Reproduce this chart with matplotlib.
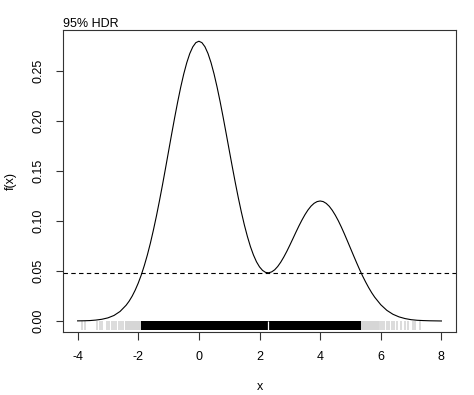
import matplotlib
matplotlib.use('agg')
from matplotlib import pyplot as plt

plt.rcParams['font.family'] = ['Liberation Sans', 'DejaVu Sans']

# density: every 0.2 in the tails, every 0.1 in the middle
x_vals = ([round(-4 + 0.2 * i, 1) for i in range(8)]
          + [round(-2.4 + 0.1 * i, 1) for i in range(83)]
          + [round(6.0 + 0.2 * i, 1) for i in range(11)])
fx_vals = [0.0001, 0.0002, 0.0004, 0.0009, 0.0017, 0.0031, 0.0055, 0.0095,
           0.0157, 0.0198, 0.0248, 0.0308, 0.0378, 0.0459, 0.0553, 0.0658,
           0.0776, 0.0907, 0.1048, 0.1200, 0.1359, 0.1525, 0.1694, 0.1863,
           0.2028, 0.2186, 0.2333, 0.2465, 0.2578, 0.2670, 0.2737, 0.2779,
           0.2793, 0.2779, 0.2738, 0.2671, 0.2580, 0.2467, 0.2336, 0.2191,
           0.2035, 0.1872, 0.1707, 0.1543, 0.1383, 0.1231, 0.1089, 0.0959,
           0.0844, 0.0743, 0.0659, 0.0591, 0.0540, 0.0505, 0.0485, 0.0481,
           0.0490, 0.0511, 0.0544, 0.0587, 0.0638, 0.0695, 0.0757, 0.0821,
           0.0886, 0.0949, 0.1008, 0.1062, 0.1109, 0.1147, 0.1175, 0.1192,
           0.1198, 0.1192, 0.1174, 0.1145, 0.1105, 0.1056, 0.1000, 0.0937,
           0.0869, 0.0798, 0.0726, 0.0654, 0.0583, 0.0514, 0.0449, 0.0389,
           0.0333, 0.0282, 0.0237,
           0.0162, 0.0106, 0.0067, 0.0041, 0.0024, 0.0013, 0.0007, 0.0004,
           0.0002, 0.0001, 0.0000]

threshold = 0.048
hdr_intervals = [(-1.90, 5.36)]
hdr_split = 2.285
grey_spans = [(-2.45, -1.90), (5.36, 5.93)]
grey_rug = [-3.86, -3.74, -3.36, -3.27, -3.19, -3.02, -2.95, -2.88, -2.80,
            -2.72, -2.64, -2.57, -2.50,
            5.97, 6.04, 6.12, 6.20, 6.28, 6.36, 6.45, 6.55, 6.66, 6.80, 6.90,
            7.05, 7.14, 7.30]

x_ticks = [-4, -2, 0, 2, 4, 6, 8]
y_ticks = [0.00, 0.05, 0.10, 0.15, 0.20, 0.25]

fig = plt.figure(figsize=(4.74, 3.95), dpi=100)
ax = fig.add_axes([0.133, 0.159, 0.829, 0.765])

bar_lo, bar_hi = -0.0095, -0.0005
grey = '#d6d6d6'
for a, b in grey_spans:
    ax.fill_between([a, b], bar_lo, bar_hi, color=grey, lw=0)
ax.vlines(grey_rug, bar_lo, bar_hi, color=grey, lw=1.2)
for a, b in hdr_intervals:
    ax.fill_between([a, b], bar_lo, bar_hi, color='black', lw=0)
ax.vlines([hdr_split], bar_lo, bar_hi, color='white', lw=0.9)

ax.plot(x_vals, fx_vals, color='black', lw=0.8)
ax.axhline(threshold, color='black', lw=0.8, ls=(0, (4, 3)))

ax.set_xlim(-4.48, 8.48)
ax.set_ylim(-0.0112, 0.2905)
ax.set_xticks(x_ticks)
ax.set_xticklabels([str(t) for t in x_ticks])
ax.set_yticks(y_ticks)
ax.set_yticklabels(['%.2f' % t for t in y_ticks], rotation=90, va='center')
ax.tick_params(direction='out', length=5.4, width=0.8, labelsize=9,
               pad=8, color='#333333')
for s in ax.spines.values():
    s.set_linewidth(0.8)
    s.set_color('#333333')

ax.set_xlabel('x', fontsize=9, labelpad=13)
ax.set_ylabel('f(x)', fontsize=9, labelpad=11)
ax.set_title('95% HDR', loc='left', fontsize=9, pad=2)

fig.savefig('out.png', dpi=100)
